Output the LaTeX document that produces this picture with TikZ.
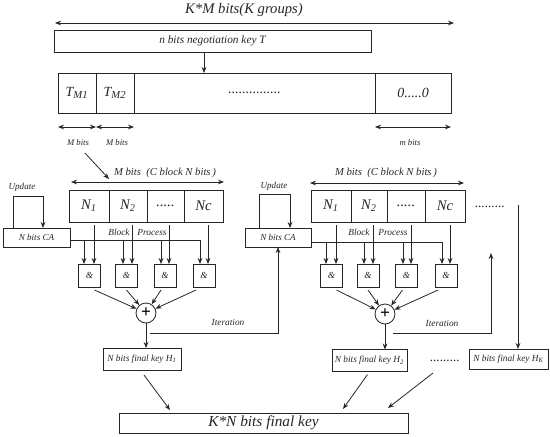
\documentclass[tikz,border=0pt]{standalone}
\usepackage{fontspec}
\setmainfont{Liberation Serif}
\usetikzlibrary{arrows.meta,calc}
\begin{document}
\begin{tikzpicture}[x=0.75pt,y=-0.75pt,
  line/.style={draw=black!85, line width=0.6pt},
  arr/.style={line, -{Stealth[length=4.5pt,width=3.5pt]}},
  darr/.style={line, {Stealth[length=4.5pt,width=3.5pt]}-{Stealth[length=4.5pt,width=3.5pt]}},
  box/.style 2 args={draw=black!85, line width=0.6pt, minimum width=#1*0.75pt, minimum height=#2*0.75pt, inner sep=0pt, outer sep=0pt, text=black!85},
  fs/.style={font=\itshape\fontsize{#1}{#1}\selectfont, text=black!85, inner sep=0pt},
  andbox/.style={box={22}{23}, fs=7},
]
\useasboundingbox (0,0) rectangle (550,436);

% ---- top part ----
\node[fs=11] (title) at (244,10) {K*M bits(K groups)};
\coordinate (tl) at (55,23);
\coordinate (tr) at (454,23);
\draw[darr] (tl) -- (tr);

\node[box={317}{22}, fs=8.5] (neg) at (212.5,41) {n bits negotiation key T};

\node[box={38}{40}, fs=10.5] (tm1) at (77,93) {T\textsubscript{\fontsize{8}{8}\selectfont M1}};
\node[box={38}{40}, fs=10.5] (tm2) at (115,93) {T\textsubscript{\fontsize{8}{8}\selectfont M2}};
\node[box={241}{40}, fs=10.5] (tdots) at (254.5,93) {...............};
\node[box={76}{40}, fs=10.5] (tz) at (413,93) {0.....0};

\coordinate (negin) at (204,73);
\draw[arr] (neg.south -| negin) -- (negin);

\coordinate (d1) at (58,127);
\coordinate (d2) at (96,127);
\coordinate (d3) at (134,127);
\coordinate (d4) at (375,127);
\coordinate (d5) at (451,127);
\draw[darr] (d1) -- (d2);
\draw[darr] (d2) -- (d3);
\draw[darr] (d4) -- (d5);
\node[fs=6.5] (mb1) at (78,143) {M bits};
\node[fs=6.5] (mb2) at (117,143) {M bits};
\node[fs=6.5] (mb3) at (410,143) {m bits};

\coordinate (dg1) at (85,153);
\coordinate (dg2) at (109,179);
\draw[arr] (dg1) -- (dg2);

% ---- group 1 ----
\node[fs=8] (lbl1) at (165,173) {M bits\enspace(C block N bits\,)};
\coordinate (g1l) at (71,182);
\coordinate (g1r) at (224,182);
\draw[darr] (g1l) -- (g1r);

\node[box={40}{32}, fs=11] (n11) at (89,206) {N\textsubscript{1}};
\node[box={38}{32}, fs=11] (n12) at (128,206) {N\textsubscript{2}};
\node[box={37}{32}, fs=11] (n13) at (165.5,206) {.....};
\node[box={39}{32}, fs=11] (n14) at (203.5,206) {Nc};

\node[box={67}{19}, fs=6.8] (ca1) at (36.5,237.5) {N bits CA};
\node[fs=6.8] (up1) at (22,187) {Update};
\draw[arr] ($(ca1.north)+(-23.5,0)$) -- ++(0,-32) -| ($(ca1.north)+(6.5,0)$);

\node[andbox] (a11) at (89.5,275.5) {\&};
\node[andbox] (a12) at (126.5,275.5) {\&};
\node[andbox] (a13) at (165,275.5) {\&};
\node[andbox] (a14) at (204,275.5) {\&};

\coordinate (b11) at (84,240);
\coordinate (b12) at (123,240);
\coordinate (b13) at (161,240);
\coordinate (b14) at (200,240);
\draw[line] (ca1.east |- b11) -- (b14);
\foreach \i in {1,2,3,4} {\draw[arr] (b1\i) -- (b1\i |- a11.north);}

\coordinate (k11) at (94,225);
\coordinate (k12) at (132,225);
\coordinate (k13) at (169,225);
\coordinate (k14) at (208,225);
\foreach \i in {1,2,3,4} {\draw[arr] (k1\i) -- (k1\i |- a11.north);}

\node[fs=7] (blk1) at (119,232) {Block};
\node[fs=7] (prc1) at (152,232) {Process};

\node[circle, draw=black!85, line width=0.6pt, minimum size=15pt, inner sep=0pt,
      font=\bfseries\fontsize{13}{13}\selectfont] (c1) at (146,313) {+};
\draw[arr] ($(a11.south)+(5,3)$) -- (c1);
\draw[arr] ($(a12.south)+(0,3)$) -- (c1);
\draw[arr] ($(a13.south)+(-4,3)$) -- (c1);
\draw[arr] ($(a14.south)+(-8,3)$) -- (c1);

\node[box={78}{22}, fs=7] (h1) at (142,359) {N bits final key H\textsubscript{1}};
\draw[arr] (c1.south) -- (c1.south |- h1.north);

% ---- group 2 ----
\node[fs=8] (lbl2) at (386,173) {M bits\enspace(C block N bits\,)};
\coordinate (g2l) at (310,183);
\coordinate (g2r) at (464,183);
\draw[darr] (g2l) -- (g2r);

\node[box={40}{32}, fs=11] (n21) at (331,206) {N\textsubscript{1}};
\node[box={36}{32}, fs=11] (n22) at (369,206) {N\textsubscript{2}};
\node[box={38}{32}, fs=11] (n23) at (406,206) {.....};
\node[box={40}{32}, fs=11] (n24) at (445,206) {Nc};
\node[fs=10] (gdots) at (490,207) {.........};

\node[box={66}{19}, fs=6.8] (ca2) at (278,237.5) {N bits CA};
\node[fs=6.8] (up2) at (274,186) {Update};
\draw[arr] ($(ca2.north)+(-19,0)$) -- ++(0,-34) -| ($(ca2.north)+(12,0)$);

\coordinate (it1) at (150,333);
\draw[arr] (it1) -| (ca2.south);
\node[fs=7] (itl1) at (228,322) {Iteration};

\node[andbox] (a21) at (331.5,275.5) {\&};
\node[andbox] (a22) at (368,275.5) {\&};
\node[andbox] (a23) at (406.5,275.5) {\&};
\node[andbox] (a24) at (446,275.5) {\&};

\coordinate (b21) at (326,242);
\coordinate (b22) at (364,242);
\coordinate (b23) at (403,242);
\coordinate (b24) at (442,242);
\draw[line] (ca2.east |- b21) -- (b24);
\foreach \i in {1,2,3,4} {\draw[arr] (b2\i) -- (b2\i |- a21.north);}

\coordinate (k21) at (336,225);
\coordinate (k22) at (373,225);
\coordinate (k23) at (411,225);
\coordinate (k24) at (450,225);
\foreach \i in {1,2,3,4} {\draw[arr] (k2\i) -- (k2\i |- a21.north);}

\node[fs=7] (blk2) at (359,232) {Block};
\node[fs=7] (prc2) at (393,232) {Process};

\node[circle, draw=black!85, line width=0.6pt, minimum size=15pt, inner sep=0pt,
      font=\bfseries\fontsize{13}{13}\selectfont] (c2) at (385,314) {+};
\draw[arr] ($(a21.south)+(5,3)$) -- (c2);
\draw[arr] ($(a22.south)+(0,3)$) -- (c2);
\draw[arr] ($(a23.south)+(-4,3)$) -- (c2);
\draw[arr] ($(a24.south)+(-8,3)$) -- (c2);

\node[box={75}{22}, fs=7] (h2) at (369.5,360.5) {N bits final key H\textsubscript{2}};
\draw[arr] (c2.south) -- (c2.south |- h2.north);

\coordinate (it2) at (393,333);
\coordinate (up2end) at (491,253);
\draw[arr] (it2) -| (up2end);
\node[fs=7] (itl2) at (442,323) {Iteration};

\node[box={79}{20}, fs=7] (hk) at (508.5,359) {N bits final key H\textsubscript{K}};
\coordinate (lv) at (518,205);
\draw[arr] (lv) -- (lv |- hk.north);
\node[fs=10] (hdots) at (445,361) {.........};

% ---- final ----
\node[box={289}{20}, fs=11.5] (fin) at (263.5,423) {K*N bits final key};
\draw[arr] ($(h1.south)+(2,5)$) -- ($(fin.north)+(-93.5,-3)$);
\draw[arr] ($(h2.south)+(-2,3)$) -- ($(fin.north)+(79.5,-4)$);
\draw[arr] ($(hk.south)+(-75.5,4)$) -- ($(fin.north)+(124.5,-5)$);
\end{tikzpicture}
\end{document}
